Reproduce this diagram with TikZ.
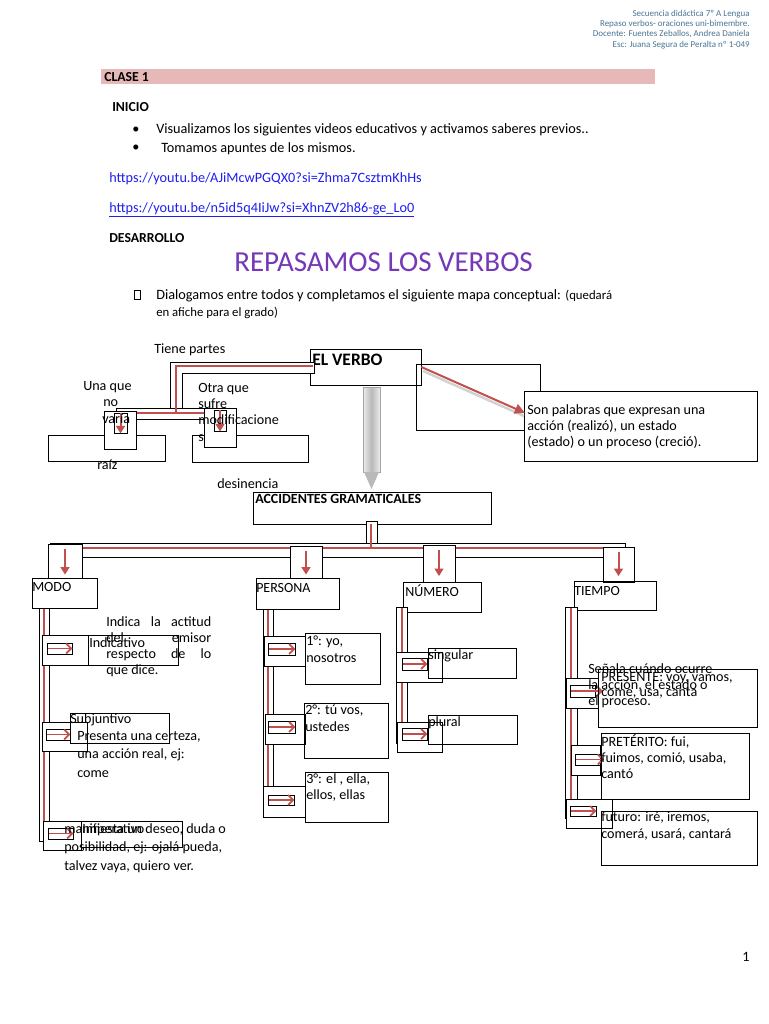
\documentclass[tikz,border=0pt]{standalone}
\usepackage{fontspec}
\setmainfont{Carlito}
\usepackage{xcolor}
\usepackage{tikz}
\usetikzlibrary{arrows.meta,positioning,fit}
\definecolor{wordred}{HTML}{C0504D}
\definecolor{barpink}{HTML}{E6B8B7}
\definecolor{linkblue}{HTML}{1F1FF0}
\definecolor{headblue}{HTML}{4A7594}
\definecolor{titlepurple}{HTML}{7438B8}
\tikzset{
  head/.style={anchor=east, inner sep=0pt, text=headblue, font=\fontsize{7.2}{8}\selectfont},
  body/.style={anchor=west, inner sep=0pt, font=\fontsize{11.4}{14}\selectfont},
  bbody/.style={body, font=\fontsize{11}{14}\selectfont\bfseries},
  link/.style={body, text=linkblue},
  txt/.style={anchor=west, inner sep=0pt, font=\fontsize{11.3}{13}\selectfont},
  para/.style={anchor=north west, inner sep=0pt, align=left, font=\fontsize{11.3}{13}\selectfont},
  lpara/.style={para, font=\fontsize{11.3}{14.8}\selectfont},
  captxt/.style={anchor=west, inner sep=0pt, font=\fontsize{11.2}{12}\selectfont},
  box/.style={draw, line width=0.6pt, inner sep=0pt},
  wbox/.style={box, fill=white},
  inrect/.style={draw, line width=0.7pt, inner sep=0pt},
  pipe/.style={draw, line width=0.6pt, fill=white},
  redline/.style={draw=wordred, line width=1.7pt},
  downarrow/.style={-{Triangle[length=6pt,width=7pt]}, draw=wordred, line width=1.6pt},
  rightarrow/.style={-{Straight Barb[length=4pt,width=8pt]}, draw=wordred, line width=1.4pt},
  bigarrow/.style={-{Triangle[length=8pt,width=8pt]}, draw=wordred, line width=1.6pt}
}
\begin{document}
\begin{tikzpicture}[x=0.8pt,y=-0.8pt]
  \useasboundingbox (0,0) rectangle (768,1024);
  \fill[white] (0,0) rectangle (768,1024);

  % header of the page
  \node[head] (h1) at (750,14) {Secuencia didáctica 7º A Lengua};
  \node[head] (h2) at (750,24) {Repaso verbos- oraciones uni-bimembre.};
  \node[head] (h3) at (750,34) {Docente: Fuentes Zeballos, Andrea Daniela};
  \node[head] (h4) at (750,45) {Esc: Juana Segura de Peralta nº 1-049};

  \node[fill=barpink, inner sep=0pt, fit={(101,69) (655,84)}] (bar) {};
  \node[bbody] (clase) at (104,77) {CLASE 1};
  \node[bbody] (inicio) at (112,107) {INICIO};
  \node[body] (b1) at (132,130) {•};
  \node[body] (b2) at (132,148) {•};
  \node[body] (vis) at (156,130) {Visualizamos los siguientes videos educativos y activamos saberes previos..};
  \node[body] (tom) at (161,149) {Tomamos apuntes de los mismos.};
  \node[link] (url1) at (109,179) {https://youtu.be/AJiMcwPGQX0?si=Zhma7CsztmKhHs};
  \node[link] (url2) at (109,210) {\underline{https://youtu.be/n5id5q4IiJw?si=XhnZV2h86-ge\_Lo0}};
  \node[bbody] (desa) at (109,238) {DESARROLLO};
  \node[anchor=west, inner sep=0pt, text=titlepurple, font=\fontsize{23.2}{25}\selectfont] (title) at (234,262) {REPASAMOS LOS VERBOS};
  \node[draw, line width=0.4pt, minimum width=5pt, minimum height=7pt, inner sep=0pt] (miss) at (137,295) {};
  \node[body] (dia) at (156,296) {Dialogamos entre todos y completamos el siguiente mapa conceptual: {\fontsize{10.2}{11}\selectfont(quedará}};
  \node[anchor=west, inner sep=0pt, font=\fontsize{10.2}{11}\selectfont] (afiche) at (156,313) {en afiche para el grado)};

  % EL VERBO and its parts
  \node[box, fit={(310,349) (421,385)}] (verbo) {};
  \node[anchor=west, inner sep=0pt, font=\fontsize{14}{15}\selectfont\bfseries] (verbot) at (312,360) {EL VERBO};

  \node[box, fit={(48,435) (165,461)}] (raiz) {};
  \node[box, fit={(192,435) (308,462)}] (desin) {};
  \draw[pipe] (314,362) -- (170,362) -- (170,408) -- (182,408) -- (182,373) -- (314,373) -- cycle;
  \draw[pipe] (116,408) rectangle (205,419);
  \draw[redline] (313,366) -- (176,366) -- (176,412);
  \draw[redline] (120,413) -- (204,413);
  \node[wbox, fit={(104,411) (136,449)}] (raizdrop) {};
  \node[inrect, fit={(114,413) (127,433)}] (raizarr) {};
  \draw[downarrow] (raizarr.north) -- (raizarr.south);
  \node[wbox, fit={(204,408) (236,447)}] (desindrop) {};
  \node[inrect, fit={(214,410) (226,431)}] (desinarr) {};
  \draw[downarrow] (desinarr.north) -- (desinarr.south);

  \node[txt] (tiene) at (154,350) {Tiene partes};
  \node[txt] (unaque) at (83,387) {Una que};
  \node[txt] (no) at (103,403) {no};
  \node[txt] (varia) at (102,419) {varía};
  \node[txt] (raizt) at (97,465) {raíz};
  \node[para] (otra) at (198,383) {Otra que\\sufre\\modificacione\\s};
  \node[txt] (desint) at (217,484) {desinencia};

  % definition on the right
  \node[box, fit={(416,364) (540,430)}] (sonback) {};
  \node[wbox, fit={(524,391) (757,461)}] (sonpal) {};
  \node[para, font=\fontsize{11.3}{12.8}\selectfont] (sont) at (527,404) {Son palabras que expresan una\\acción (realizó), un estado\\(estado) o un proceso (creció).};
  \draw[gray!35, line width=2pt] (423,371) -- (524,416);
  \draw[bigarrow] (verbo.east) -- ([xshift=1pt,yshift=10.5pt]sonpal.west);

  % grey arrow down to the accidents
  \shade[left color=gray!15, right color=gray!15, middle color=gray!55] (363,387) rectangle (380,472);
  \draw[gray!70, line width=0.5pt] (363,387) rectangle (380,472);
  \fill[gray!55] (364,472) -- (379,472) -- (371.5,489) -- cycle;

  \node[box, fit={(253,492) (491,524)}] (acc) {};
  \node[captxt, font=\fontsize{11.2}{12}\selectfont\bfseries] (acct) at (255,499) {ACCIDENTES GRAMATICALES};
  \node[wbox, fit={(366,521) (377,543)}] (accstem) {};
  \draw[redline, line width=1.2pt] (371,524) -- (371,548);

  % horizontal branch
  \draw[pipe] (50,543) rectangle (625,557);
  \draw[redline] (63,548) -- (621,548);
  \draw[redline, line width=1.2pt] (371,543) -- (371,548);

  \node[wbox, fit={(48,544) (82,578)}] (modod) {};
  \node[wbox, fit={(290,546) (322,578)}] (personad) {};
  \node[wbox, fit={(423,545) (455,582)}] (numerod) {};
  \node[wbox, fit={(603,547) (634,582)}] (tiempod) {};
  \draw[downarrow] ([yshift=-4pt]modod.north) -- ([yshift=3pt]modod.south);
  \draw[downarrow] ([yshift=-4pt]personad.north) -- ([yshift=3pt]personad.south);
  \draw[downarrow] ([yshift=-4pt]numerod.north) -- ([yshift=5pt]numerod.south);
  \draw[downarrow] ([yshift=-4pt]tiempod.north) -- ([yshift=5pt]tiempod.south);

  \node[box, fit={(32,578) (97,608)}] (modo) {};
  \node[box, fit={(256,578) (339,609)}] (persona) {};
  \node[box, fit={(403,582) (481,612)}] (numero) {};
  \node[box, fit={(574,581) (656,610)}] (tiempo) {};
  \node[captxt] (modot) at (32,587) {MODO};
  \node[captxt] (personat) at (256,588) {PERSONA};
  \node[captxt] (numerot) at (405,591) {NÚMERO};
  \node[captxt] (tiempot) at (574,591) {TIEMPO};

  % vertical pipes
  \draw[pipe] (39,608) rectangle (49,841);
  \draw[redline] (44,609) -- (44,840);
  \draw[pipe] (263,609) rectangle (273,816);
  \draw[redline] (268,610) -- (268,815);
  \draw[pipe] (396,607) rectangle (407,743);
  \draw[redline] (402,608) -- (402,742);
  \draw[pipe] (565,607) rectangle (577,818);
  \draw[redline] (571,608) -- (571,817);

  % MODO
  \node[wbox, fit={(42,635) (88,665)}] (indicsm) {};
  \node[inrect, fit={(47,643) (72,654)}] (indicarr) {};
  \draw[rightarrow] ([xshift=1pt]indicarr.west) -- (indicarr.east);
  \node[box, fit={(88,635) (178,665)}] (indic) {};
  \node[txt] (indict) at (89,643) {Indicativo};
  \node[para] (indicatext) at (106,616) {\makebox[84pt][s]{Indica la actitud}\\\makebox[84pt][s]{del emisor}\\\makebox[84pt][s]{respecto de lo}\\que dice.};

  \node[wbox, fit={(42,722) (87,751)}] (subjsm) {};
  \node[inrect, fit={(46,729) (70,740)}] (subjarr) {};
  \draw[rightarrow] ([xshift=1pt]subjarr.west) -- (subjarr.east);
  \node[box, fit={(70,713) (169,743)}] (subj) {};
  \node[txt] (subjt) at (70,720) {Subjuntivo};
  \node[lpara] (subjtext) at (77,731) {Presenta una certeza,\\una acción real, ej:\\come};

  \node[wbox, fit={(43,821) (81,850)}] (impersm) {};
  \node[inrect, fit={(48,828) (73,839)}] (imperarr) {};
  \draw[rightarrow] ([xshift=1pt]imperarr.west) -- (imperarr.east);
  \node[box, fit={(81,821) (182,847)}] (imper) {};
  \node[txt] (impert) at (82,830) {Imperativo};
  \node[lpara] (impertext) at (64,823) {manifiesta un deseo, duda o\\posibilidad, ej: ojalá pueda,\\talvez vaya, quiero ver.};

  % PERSONA
  \node[wbox, fit={(264,636) (305,666)}] (pers1sm) {};
  \node[inrect, fit={(268,643) (295,655)}] (pers1arr) {};
  \draw[rightarrow] ([xshift=1pt]pers1arr.west) -- (pers1arr.east);
  \node[box, fit={(305,633) (380,684)}] (pers1) {};
  \node[para] (pers1t) at (306,636) {1°: yo,\\nosotros};

  \node[wbox, fit={(265,714) (305,744)}] (pers2sm) {};
  \node[inrect, fit={(268,721) (295,733)}] (pers2arr) {};
  \draw[rightarrow] ([xshift=1pt]pers2arr.west) -- (pers2arr.east);
  \node[box, fit={(304,703) (388,758)}] (pers2) {};
  \node[para] (pers2t) at (305,705) {2°: tú vos,\\ustedes};

  \node[wbox, fit={(263,786) (305,817)}] (pers3sm) {};
  \node[inrect, fit={(268,795) (294,805)}] (pers3arr) {};
  \draw[rightarrow] ([xshift=1pt]pers3arr.west) -- (pers3arr.east);
  \node[box, fit={(305,772) (388,822)}] (pers3) {};
  \node[para] (pers3t) at (306,773) {3°: el , ella,\\ellos, ellas};

  % NUMERO
  \node[wbox, fit={(396,652) (442,682)}] (singsm) {};
  \node[inrect, fit={(402,658) (427,670)}] (singarr) {};
  \draw[rightarrow] ([xshift=1pt]singarr.west) -- (singarr.east);
  \node[box, fit={(428,648) (516,678)}] (sing) {};
  \node[txt] (singt) at (428,656) {singular};

  \node[wbox, fit={(397,722) (442,752)}] (plursm) {};
  \node[inrect, fit={(402,728) (427,740)}] (plurarr) {};
  \draw[rightarrow] ([xshift=1pt]plurarr.west) -- (plurarr.east);
  \node[box, fit={(428,715) (517,744)}] (plur) {};
  \node[txt] (plurt) at (428,723) {plural};

  % TIEMPO
  \node[wbox, fit={(566,678) (598,708)}] (pressm) {};
  \node[inrect, fit={(570,685) (595,697)}] (presarr) {};
  \draw[rightarrow] ([xshift=1pt]presarr.west) -- ([xshift=6pt]presarr.east);
  \node[box, fit={(598,669) (757,727)}] (pres) {};
  \node[para] (senala) at (588,663) {Señala cuándo ocurre\\la acción, el estado o\\el proceso.};
  \node[para, font=\fontsize{11.3}{11.8}\selectfont] (prest) at (601,672) {PRESENTE: voy, vamos,\\come, usa, canta};

  \node[wbox, fit={(571,745) (600,775)}] (pretsm) {};
  \node[inrect, fit={(575,754) (600,765)}] (pretarr) {};
  \draw[rightarrow] ([xshift=1pt]pretarr.west) -- ([xshift=3pt]pretarr.east);
  \node[box, fit={(601,733) (749,799)}] (pret) {};
  \node[para] (prett) at (601,734) {PRETÉRITO: fui,\\fuimos, comió, usaba,\\cantó};

  \node[wbox, fit={(566,799) (612,828)}] (futsm) {};
  \node[inrect, fit={(570,806) (596,816)}] (futarr) {};
  \draw[rightarrow] ([xshift=1pt]futarr.west) -- (futarr.east);
  \node[box, fit={(601,811) (757,865)}] (fut) {};
  \node[para] (futt) at (601,812) {futuro: iré, iremos,\\comerá, usará, cantará};

  \node[body] (pagenum) at (742,957) {1};
\end{tikzpicture}
\end{document}
